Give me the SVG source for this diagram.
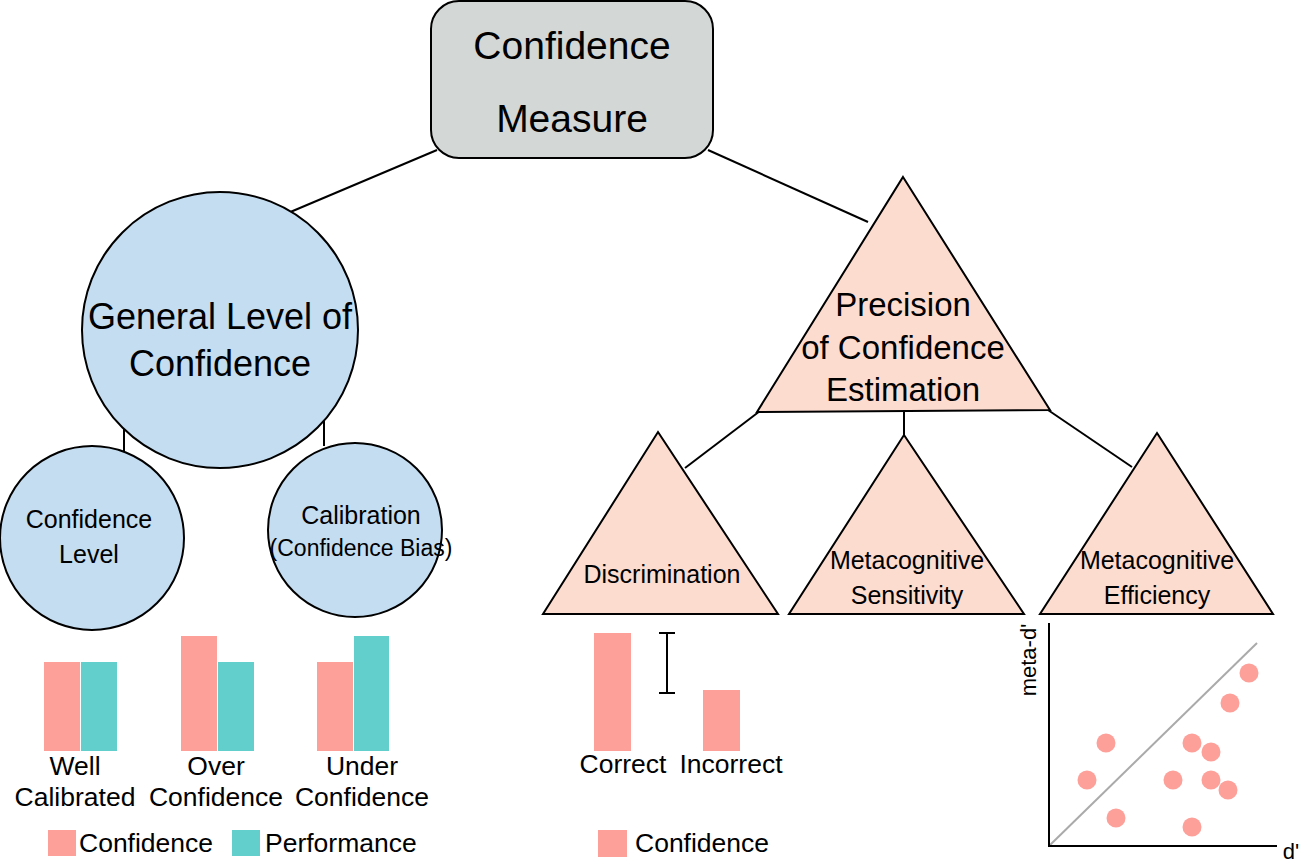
<svg xmlns="http://www.w3.org/2000/svg" width="1301" height="863" viewBox="0 0 1301 863">
<style>
text{font-family:"Liberation Sans",Arial,sans-serif;fill:#000;text-anchor:middle}
.circ{fill:#c4ddf1;stroke:#000;stroke-width:2}
.tri{fill:#fddcd0;stroke:#000;stroke-width:2;stroke-linejoin:miter}
.conn{stroke:#000;stroke-width:2;fill:none}
.pk{fill:#fda09a}
.tl{fill:#62cfcd}
.dot{fill:#fda09a}
.st{text-anchor:start}
.lb{font-size:26.5px}
.nd{font-size:25px}
</style>
<rect width="1301" height="863" fill="#fff"/>
<g id="connectors">
<line class="conn" x1="437" y1="150" x2="288" y2="213"/>
<line class="conn" x1="708" y1="150" x2="868" y2="222"/>
<line class="conn" x1="124" y1="418" x2="124" y2="452"/>
<line class="conn" x1="324" y1="418" x2="324" y2="446"/>
<line class="conn" x1="760" y1="411" x2="685" y2="468"/>
<line class="conn" x1="904" y1="410" x2="904" y2="436"/>
<line class="conn" x1="1048" y1="410" x2="1132" y2="467"/>
</g>
<g id="confidence-measure">
<rect x="431" y="1" width="282" height="157" rx="28" ry="28" fill="#d3d7d6" stroke="#000" stroke-width="2"/>
<text x="572" y="59" font-size="39">Confidence</text>
<text x="572" y="132" font-size="39">Measure</text>
</g>
<g id="general-level">
<circle class="circ" cx="220" cy="330" r="138"/>
<text x="220" y="329" font-size="36">General Level of</text>
<text x="220" y="376" font-size="36">Confidence</text>
</g>
<g id="confidence-level">
<circle class="circ" cx="92" cy="538" r="92"/>
<text class="nd" x="89" y="528">Confidence</text>
<text class="nd" x="89" y="563">Level</text>
</g>
<g id="calibration">
<circle class="circ" cx="355" cy="530" r="87"/>
<text class="nd" x="361" y="524">Calibration</text>
<text x="361" y="556" font-size="23">(Confidence Bias)</text>
</g>
<g id="precision">
<polygon class="tri" points="903,177 1050,410 757,412"/>
<text x="903" y="316" font-size="33">Precision</text>
<text x="903" y="359" font-size="33">of Confidence</text>
<text x="903" y="401" font-size="33">Estimation</text>
</g>
<g id="discrimination">
<polygon class="tri" points="658,432 778,614 543,614"/>
<text class="nd" x="662" y="583">Discrimination</text>
</g>
<g id="meta-sensitivity">
<polygon class="tri" points="904,435 1024,614 789,614"/>
<text class="nd" x="907" y="569">Metacognitive</text>
<text class="nd" x="907" y="604">Sensitivity</text>
</g>
<g id="meta-efficiency">
<polygon class="tri" points="1157,433 1273,614 1040,614"/>
<text class="nd" x="1157" y="569">Metacognitive</text>
<text class="nd" x="1157" y="604">Efficiency</text>
</g>
<g id="calibration-bars">
<rect class="pk" x="44" y="662" width="36" height="89"/>
<rect class="tl" x="81" y="662" width="36" height="89"/>
<rect class="pk" x="181" y="636" width="36" height="115"/>
<rect class="tl" x="218" y="662" width="36" height="89"/>
<rect class="pk" x="317" y="662" width="36" height="89"/>
<rect class="tl" x="354" y="636" width="35" height="115"/>
<text class="lb" x="75" y="775">Well</text>
<text class="lb" x="75" y="806">Calibrated</text>
<text class="lb" x="216" y="775">Over</text>
<text class="lb" x="216" y="806">Confidence</text>
<text class="lb" x="362" y="775">Under</text>
<text class="lb" x="362" y="806">Confidence</text>
<rect class="pk" x="48" y="830" width="28" height="26"/>
<text class="st lb" x="79" y="852">Confidence</text>
<rect class="tl" x="232" y="830" width="28" height="26"/>
<text class="st lb" x="265" y="852">Performance</text>
</g>
<g id="discrimination-bars">
<rect class="pk" x="594" y="633" width="37" height="118"/>
<rect class="pk" x="703" y="690" width="37" height="61"/>
<line class="conn" x1="667" y1="633" x2="667" y2="693"/>
<line class="conn" x1="659" y1="633" x2="675" y2="633"/>
<line class="conn" x1="659" y1="693" x2="675" y2="693"/>
<text class="lb" x="623" y="773">Correct</text>
<text class="lb" x="731" y="773">Incorrect</text>
<rect class="pk" x="598" y="830" width="29" height="27"/>
<text class="st lb" x="635" y="852">Confidence</text>
</g>
<g id="efficiency-scatter">
<line x1="1049" y1="846" x2="1257" y2="643" stroke="#aaa" stroke-width="2"/>
<line class="conn" x1="1049" y1="623" x2="1049" y2="847"/>
<line class="conn" x1="1048" y1="846" x2="1277" y2="846"/>
<circle class="dot" cx="1249" cy="673" r="9.5"/>
<circle class="dot" cx="1230" cy="703" r="9.5"/>
<circle class="dot" cx="1106" cy="743" r="9.5"/>
<circle class="dot" cx="1192" cy="743" r="9.5"/>
<circle class="dot" cx="1211" cy="752" r="9.5"/>
<circle class="dot" cx="1087" cy="780" r="9.5"/>
<circle class="dot" cx="1173" cy="780" r="9.5"/>
<circle class="dot" cx="1211" cy="780" r="9.5"/>
<circle class="dot" cx="1228" cy="790" r="9.5"/>
<circle class="dot" cx="1116" cy="818" r="9.5"/>
<circle class="dot" cx="1192" cy="827" r="9.5"/>
<text x="0" y="0" font-size="22" transform="translate(1036,660) rotate(-90)">meta-d'</text>
<text x="1291" y="859" font-size="22">d'</text>
</g>
</svg>
